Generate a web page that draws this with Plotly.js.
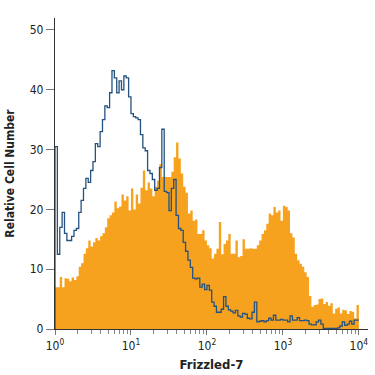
<!DOCTYPE html>
<html>
<head>
<meta charset="utf-8">
<script src="https://cdn.plot.ly/plotly-3.0.1.min.js"></script>
<style>html,body{margin:0;padding:0;background:#fff}#chart{width:375px;height:375px}</style>
</head>
<body>
<div id="chart"></div>
<script>
// Histogram channels: 128 log-spaced bins from 10^0 to 10^4 (32 per decade)
var binsPerDecade = 32;
var decades = 4;

// Isotype control (blue outline)
var controlCounts = [
30.5,12.5,17,19.5,16,14.8,14.8,15.5,16.5,16.8,
19.5,21.5,23.5,25.2,24.5,26.5,28,31,30.5,33,
35,37.3,37,39.5,43.2,42,39.5,41.5,40,42.3,
42,38.8,36,35.5,35.3,35,32.5,30.3,29.8,26.5,
26,25,23.2,23.5,27,33.4,23,22.8,19.8,23.5,
25,19,16.8,16.5,14.5,13,11.5,10.3,8.5,8.4,
8.5,7,7.5,6.6,7.3,6.5,4.5,3.8,2.8,2.8,
3.3,5.4,3.8,3.2,3,2.7,3.1,2.2,2,2.6,
2.5,1.8,1.7,2.8,4.5,1.2,1.3,1.4,1.2,1.4,
1.8,1.5,2.3,1.5,1.5,1.6,1.5,1.5,1.2,2.2,
1.5,1.5,1.9,1.4,1.4,1.5,1.4,0.8,0.7,0.7,
1.2,1.5,0.8,0.1,0.1,0.1,0.1,0.1,0.1,0.2,
0.5,1.2,0.6,0.8,1.3,0.8,1.5,1.5
];

// Frizzled-7 stained (orange filled)
var stainedCounts = [
7,7,8.7,7,8.5,8.4,8,8.6,8.2,8.8,
10.4,11,12.6,13.5,14.8,13.8,14.5,15.2,14.8,15.5,
16,17,18.5,19,19.5,21.3,20.2,20.5,22.5,21.5,
22.2,19.8,23.5,20,22.5,21,23.6,26.5,23.2,24.5,
23.5,22.2,23.8,24.8,27.6,25.4,25.4,25.4,25.4,26.3,
28.7,31.2,28.5,26,23.8,22.8,19.3,19.8,18.1,18.3,
15.9,15.9,16.5,14.8,14,13.5,11.8,12.6,13.4,17.9,
12.5,14.2,14.8,15.9,12.6,12.6,14.8,12,12.2,15,
13.4,13.4,13.5,13.4,13.4,14,14.8,15.9,16.5,17.6,
19.3,19,20.4,19.5,19.8,18.1,20.6,20.4,19.8,16,
15.3,12.6,11.5,10.9,10.4,9.5,8.7,5.5,3.7,4,
4.1,5,5.1,4.2,4.5,3.9,4.3,2.6,3.4,3.6,
2.6,3.2,3.1,2.5,3,2.9,1.8,4
];

var xTickVals = [1, 10, 100, 1000, 10000];
var xTickText = ['10<sup>0</sup>', '10<sup>1</sup>', '10<sup>2</sup>', '10<sup>3</sup>', '10<sup>4</sup>'];
var yTickVals = [0, 10, 20, 30, 40, 50];

var nBins = binsPerDecade * decades;
var edges = [];
for (var i = 0; i <= nBins; i++) edges.push(Math.pow(10, i / binsPerDecade));

var stX = edges.slice();
var stY = stainedCounts.concat([stainedCounts[stainedCounts.length - 1]]);
var ctX = [edges[0]].concat(edges);
var ctY = [0].concat(controlCounts).concat([controlCounts[controlCounts.length - 1]]);

var minorVals = [];
for (var d = 0; d < decades; d++) {
  for (var m = 2; m <= 9; m++) minorVals.push(m * Math.pow(10, d));
}

var fontFam = '"DejaVu Sans Condensed", "Liberation Sans Narrow", Arial, sans-serif';

var traces = [
  {
    x: stX, y: stY, type: 'scatter', mode: 'lines',
    line: {shape: 'hv', width: 0, color: '#F7A21F'},
    fill: 'tozeroy', fillcolor: '#F7A21F',
    hoverinfo: 'skip', showlegend: false
  },
  {
    x: ctX, y: ctY, type: 'scatter', mode: 'lines',
    line: {shape: 'hv', width: 1.3, color: '#25527E'},
    hoverinfo: 'skip', showlegend: false
  }
];

var layout = {
  width: 375, height: 375,
  margin: {l: 55, r: 7, t: 18, b: 46},
  paper_bgcolor: '#fff', plot_bgcolor: '#fff',
  font: {family: fontFam, color: '#222', size: 12},
  xaxis: {
    type: 'log', range: [0, 4.12],
    tickmode: 'array', tickvals: xTickVals, ticktext: xTickText,
    ticks: 'outside', ticklen: 5, tickcolor: '#777', tickwidth: 1,
    showline: true, linecolor: '#333', linewidth: 1.2,
    showgrid: false, zeroline: false,
    tickfont: {family: fontFam, size: 12, color: '#222'},
    minor: {tickmode: 'array', tickvals: minorVals, ticks: 'outside', ticklen: 4, tickcolor: '#888', showgrid: false},
    title: {text: '<b>Frizzled-7</b>', font: {family: fontFam, size: 13, color: '#222'}, standoff: 8}
  },
  yaxis: {
    range: [0, 52],
    tickmode: 'array', tickvals: yTickVals,
    ticks: 'outside', ticklen: 8, tickcolor: '#777', tickwidth: 1,
    showline: true, linecolor: '#333', linewidth: 1.2,
    showgrid: false, zeroline: false,
    tickfont: {family: fontFam, size: 12, color: '#222'},
    title: {text: '<b>Relative Cell Number</b>', font: {family: fontFam, size: 12, color: '#222'}, standoff: 12}
  }
};

Plotly.newPlot('chart', traces, layout, {staticPlot: true, displayModeBar: false});
</script>
</body>
</html>
